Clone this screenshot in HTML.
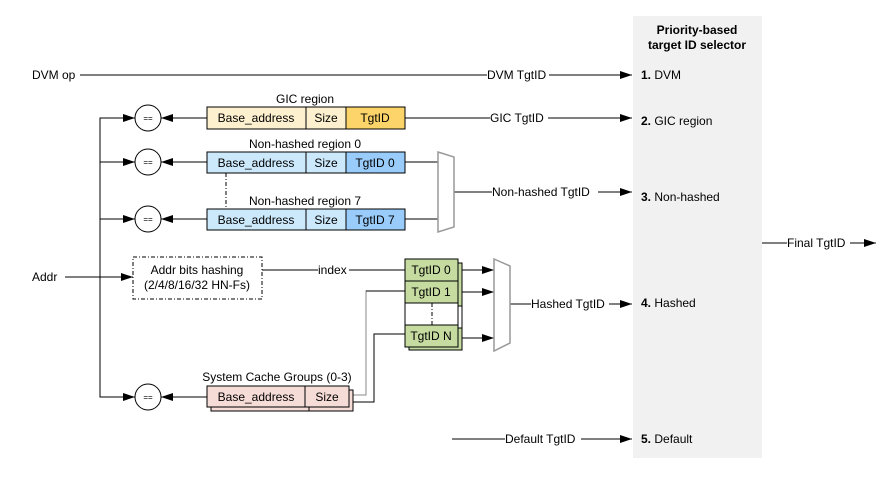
<!DOCTYPE html>
<html><head><meta charset="utf-8"><style>
html,body{margin:0;padding:0;background:#fff;}
svg{display:block;font-family:"Liberation Sans",Arial,sans-serif;}
text{font-size:12px;fill:#000;}
</style></head><body>
<svg width="883" height="480" viewBox="0 0 883 480" xmlns="http://www.w3.org/2000/svg">
<defs>
<marker id="a" markerWidth="12" markerHeight="8" refX="12" refY="4" orient="auto" markerUnits="userSpaceOnUse"><path d="M0,0 L12,4 L0,8 z" fill="#000"/></marker>
</defs>
<rect x="633" y="16" width="129" height="442" fill="#f1f1f1"/>
<text x="697" y="34" text-anchor="middle" font-weight="bold">Priority-based</text>
<text x="697" y="49" text-anchor="middle" font-weight="bold">target ID selector</text>
<g stroke="#000" stroke-width="1" fill="none">
<line x1="80" y1="75" x2="487" y2="75"/><line x1="549" y1="75" x2="632" y2="75" marker-end="url(#a)"/>
<line x1="405" y1="118" x2="490" y2="118"/><line x1="548" y1="118" x2="632" y2="118" marker-end="url(#a)"/>
<polyline points="135,118 100,118 100,397 135,397"/>
<line x1="100" y1="118" x2="135" y2="118" marker-end="url(#a)"/>
<line x1="100" y1="162" x2="135" y2="162" marker-end="url(#a)"/>
<line x1="100" y1="219" x2="135" y2="219" marker-end="url(#a)"/>
<line x1="100" y1="397" x2="135" y2="397" marker-end="url(#a)"/>
<line x1="207" y1="118" x2="161" y2="118" marker-end="url(#a)"/>
<line x1="207" y1="162" x2="161" y2="162" marker-end="url(#a)"/>
<line x1="207" y1="219" x2="161" y2="219" marker-end="url(#a)"/>
<line x1="207" y1="397" x2="161" y2="397" marker-end="url(#a)"/>
<line x1="65" y1="277" x2="133" y2="277" marker-end="url(#a)"/>
<line x1="262" y1="270" x2="318" y2="270"/><line x1="349" y1="270" x2="405" y2="270"/>
<line x1="405" y1="162" x2="438" y2="162"/><line x1="405" y1="219" x2="438" y2="219"/>
<line x1="454" y1="192" x2="492" y2="192"/><line x1="598" y1="192" x2="632" y2="192" marker-end="url(#a)"/>
<line x1="462" y1="270" x2="494" y2="270" marker-end="url(#a)"/>
<line x1="462" y1="292" x2="494" y2="292" marker-end="url(#a)"/>
<line x1="462" y1="338" x2="494" y2="338" marker-end="url(#a)"/>
<line x1="510" y1="304" x2="531" y2="304"/><line x1="609" y1="304" x2="632" y2="304" marker-end="url(#a)"/>
<line x1="452" y1="439" x2="505" y2="439"/><line x1="581" y1="439" x2="632" y2="439" marker-end="url(#a)"/>
<line x1="762" y1="243" x2="787" y2="243"/><line x1="850" y1="243" x2="876" y2="243" marker-end="url(#a)"/>
<polyline points="353,402 374,402 374,334 405,334"/>
</g>
<polyline points="353,395 366,395 366,291 405,291" fill="none" stroke="#888" stroke-width="1"/>
<polyline points="366,291 405,291" fill="none" stroke="#000"/>
<g fill="#fff" stroke="#000">
<circle cx="148" cy="118" r="13"/><circle cx="148" cy="162" r="13"/><circle cx="148" cy="219" r="13"/><circle cx="148" cy="397" r="13"/>
</g>
<g text-anchor="middle"><text x="148" y="121" style="font-size:8px">==</text><text x="148" y="165" style="font-size:8px">==</text><text x="148" y="222" style="font-size:8px">==</text><text x="148" y="400" style="font-size:8px">==</text></g>
<g stroke="#000">
<rect x="207" y="107" width="99" height="22" fill="#fdf0cf"/>
<rect x="306" y="107" width="40" height="22" fill="#fdf0cf"/>
<rect x="346" y="107" width="59" height="22" fill="#fdd46a"/>
<rect x="207" y="152" width="99" height="21" fill="#cce9fb"/>
<rect x="306" y="152" width="40" height="21" fill="#cce9fb"/>
<rect x="346" y="152" width="59" height="21" fill="#99ccfa"/>
<rect x="207" y="209" width="99" height="21" fill="#cce9fb"/>
<rect x="306" y="209" width="40" height="21" fill="#cce9fb"/>
<rect x="346" y="209" width="59" height="21" fill="#99ccfa"/>
<rect x="211" y="390" width="98" height="21" fill="#f5dcd7"/>
<rect x="309" y="390" width="44" height="21" fill="#f5dcd7"/>
<rect x="207" y="386" width="98" height="21" fill="#f5dcd7"/>
<rect x="305" y="386" width="44" height="21" fill="#f5dcd7"/>
<rect x="409" y="263" width="53" height="87" fill="#c5dba0"/>
<rect x="409" y="306" width="53" height="22" fill="#fff"/>
<rect x="405" y="259" width="53" height="22" fill="#c5dba0"/>
<rect x="405" y="281" width="53" height="22" fill="#c5dba0"/>
<rect x="405" y="303" width="53" height="22" fill="#fff"/>
<rect x="405" y="325" width="53" height="22" fill="#c5dba0"/>
</g>
<line x1="226" y1="173" x2="226" y2="209" stroke="#000" stroke-dasharray="4,2,1,2"/>
<line x1="432" y1="303" x2="432" y2="325" stroke="#000" stroke-dasharray="4,2,1,2"/>
<rect x="133" y="257" width="129" height="42" fill="#fff" stroke="#000" stroke-dasharray="4,2,1,2"/>
<polygon points="438,152 454,157 454,227 438,232" fill="#fff" stroke="#999" stroke-width="1.5"/>
<polygon points="494,259 510,266 510,343 494,351" fill="#fff" stroke="#999" stroke-width="1.5"/>
<text x="32" y="79">DVM op</text>
<text x="487" y="79">DVM TgtID</text>
<text x="490" y="122">GIC TgtID</text>
<text x="492" y="196">Non-hashed TgtID</text>
<text x="531" y="308">Hashed TgtID</text>
<text x="505" y="443">Default TgtID</text>
<text x="787" y="247">Final TgtID</text>
<text x="32" y="281">Addr</text>
<text x="318" y="274">index</text>
<text x="197" y="274" text-anchor="middle">Addr bits hashing</text>
<text x="197" y="289" text-anchor="middle">(2/4/8/16/32 HN-Fs)</text>
<text x="305" y="103" text-anchor="middle">GIC region</text>
<text x="305" y="148" text-anchor="middle">Non-hashed region 0</text>
<text x="305" y="205" text-anchor="middle">Non-hashed region 7</text>
<text x="277" y="381" text-anchor="middle">System Cache Groups (0-3)</text>
<g text-anchor="middle">
<text x="256" y="122">Base_address</text><text x="326" y="122">Size</text><text x="375" y="122">TgtID</text>
<text x="256" y="167">Base_address</text><text x="326" y="167">Size</text><text x="375" y="167">TgtID 0</text>
<text x="256" y="224">Base_address</text><text x="326" y="224">Size</text><text x="375" y="224">TgtID 7</text>
<text x="256" y="401">Base_address</text><text x="327" y="401">Size</text>
<text x="431" y="274">TgtID 0</text><text x="431" y="296">TgtID 1</text><text x="431" y="340">TgtID N</text>
</g>
<text x="641" y="79"><tspan font-weight="bold">1.</tspan> DVM</text>
<text x="641" y="125"><tspan font-weight="bold">2.</tspan> GIC region</text>
<text x="641" y="201"><tspan font-weight="bold">3.</tspan> Non-hashed</text>
<text x="641" y="307"><tspan font-weight="bold">4.</tspan> Hashed</text>
<text x="641" y="443"><tspan font-weight="bold">5.</tspan> Default</text>
</svg>
</body></html>
